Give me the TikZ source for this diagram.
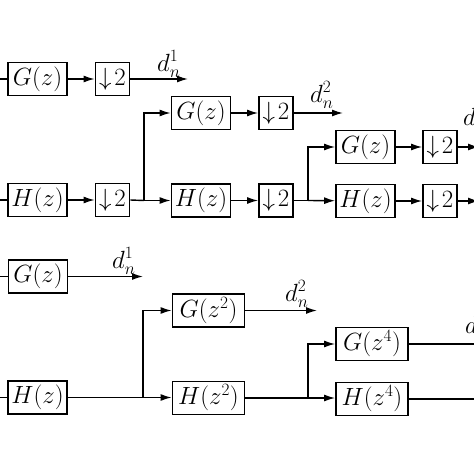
\documentclass[tikz,border=0pt]{standalone}
\usetikzlibrary{arrows.meta}
\begin{document}
\begin{tikzpicture}[x=1pt,y=-1pt,
  blk/.style={draw,line width=1.8pt,inner sep=0pt,minimum height=33pt,font=\fontsize{25}{29}\selectfont},
  fbox/.style={blk,minimum width=59pt},
  fboxw/.style={blk,minimum width=72pt},
  dbox/.style={blk,minimum width=34pt},
  lab/.style={anchor=base west,inner sep=0pt,font=\fontsize{25}{29}\selectfont},
  con/.style={line width=1.4pt},
  arr/.style={con,-{Latex[length=11pt,width=7pt]}}]
\useasboundingbox (0,0) rectangle (474,474);
\clip (0,0) rectangle (474,474);
% ---------- top ----------
\node[fbox] (G1) at (37.5,79) {$G(z)$};
\node[dbox] (D1) at (112.5,79) {$\downarrow\!2$};
\node[fbox] (H1) at (37.5,200) {$H(z)$};
\node[dbox] (D2) at (112.5,200) {$\downarrow\!2$};
\node[fbox] (G2) at (201,113) {$G(z)$};
\node[fbox] (H2) at (201,200.5) {$H(z)$};
\node[dbox] (D3) at (276,113) {$\downarrow\!2$};
\node[dbox] (D4) at (276,200.5) {$\downarrow\!2$};
\node[fbox] (G3) at (365.5,147) {$G(z)$};
\node[fbox] (H3) at (365.5,201) {$H(z)$};
\node[dbox] (D5) at (440,147) {$\downarrow\!2$};
\node[dbox] (D6) at (440,201) {$\downarrow\!2$};
\coordinate (i1) at (-5,79);
\coordinate (i2) at (-5,200);
\coordinate (o1) at (188,79);
\coordinate (o2) at (343,113);
\coordinate (o3) at (479,147);
\coordinate (o4) at (479,201);
\coordinate (J1) at (144,200.5);
\coordinate (J2) at (308,200.5);
\draw[con] (i1) -- (G1.west);
\draw[con] (i2) -- (H1.west);
\draw[arr] (G1) -- (D1);
\draw[arr] (D1) -- (o1);
\draw[arr] (H1) -- (D2);
\draw[con] (D2.east) -- (J1);
\draw[arr] (J1) -- (H2);
\draw[arr] (J1) |- (G2.west);
\draw[arr] (G2) -- (D3);
\draw[arr] (D3) -- (o2);
\draw[arr] (H2) -- (D4);
\draw[con] (D4.east) -- (J2);
\draw[arr] (J2) -- (H3);
\draw[arr] (J2) |- (G3.west);
\draw[arr] (G3) -- (D5);
\draw[arr] (H3) -- (D6);
\draw[arr] (D5) -- (o3);
\draw[arr] (D6) -- (o4);
\node[lab] (l1) at (157,71) {$d_n^1$};
\node[lab] (l2) at (310,102) {$d_n^2$};
\node[lab] (l3) at (463,125) {$d_n^3$};
% ---------- bottom ----------
\node[fbox] (G4) at (38,276.5) {$G(z)$};
\node[fbox] (H4) at (37.5,397.5) {$H(z)$};
\node[fboxw] (G5) at (208.5,310.5) {$G(z^2)$};
\node[fboxw] (H5) at (208.5,398) {$H(z^2)$};
\node[fboxw] (G6) at (372,344) {$G(z^4)$};
\node[fboxw] (H6) at (372,399) {$H(z^4)$};
\coordinate (i3) at (-5,276.5);
\coordinate (i4) at (-5,397.5);
\coordinate (o5) at (143,276.5);
\coordinate (o6) at (317,310.5);
\coordinate (o7) at (520,344);
\coordinate (o8) at (520,399);
\coordinate (J3) at (143,397.5);
\coordinate (J4) at (308,398);
\draw[con] (i3) -- (G4.west);
\draw[con] (i4) -- (H4.west);
\draw[arr] (G4) -- (o5);
\draw[con] (H4.east) -- (J3);
\draw[arr] (J3) -- (H5.west |- J3);
\draw[arr] (J3) |- (G5.west);
\draw[arr] (G5) -- (o6);
\draw[con] (H5.east) -- (J4);
\draw[arr] (J4) -- (H6.west |- J4);
\draw[arr] (J4) |- (G6.west);
\draw[arr] (G6) -- (o7);
\draw[arr] (H6) -- (o8);
\node[lab] (l4) at (112,268) {$d_n^1$};
\node[lab] (l5) at (285,301) {$d_n^2$};
\node[lab] (l6) at (465,333) {$d_n^3$};
\end{tikzpicture}
\end{document}
